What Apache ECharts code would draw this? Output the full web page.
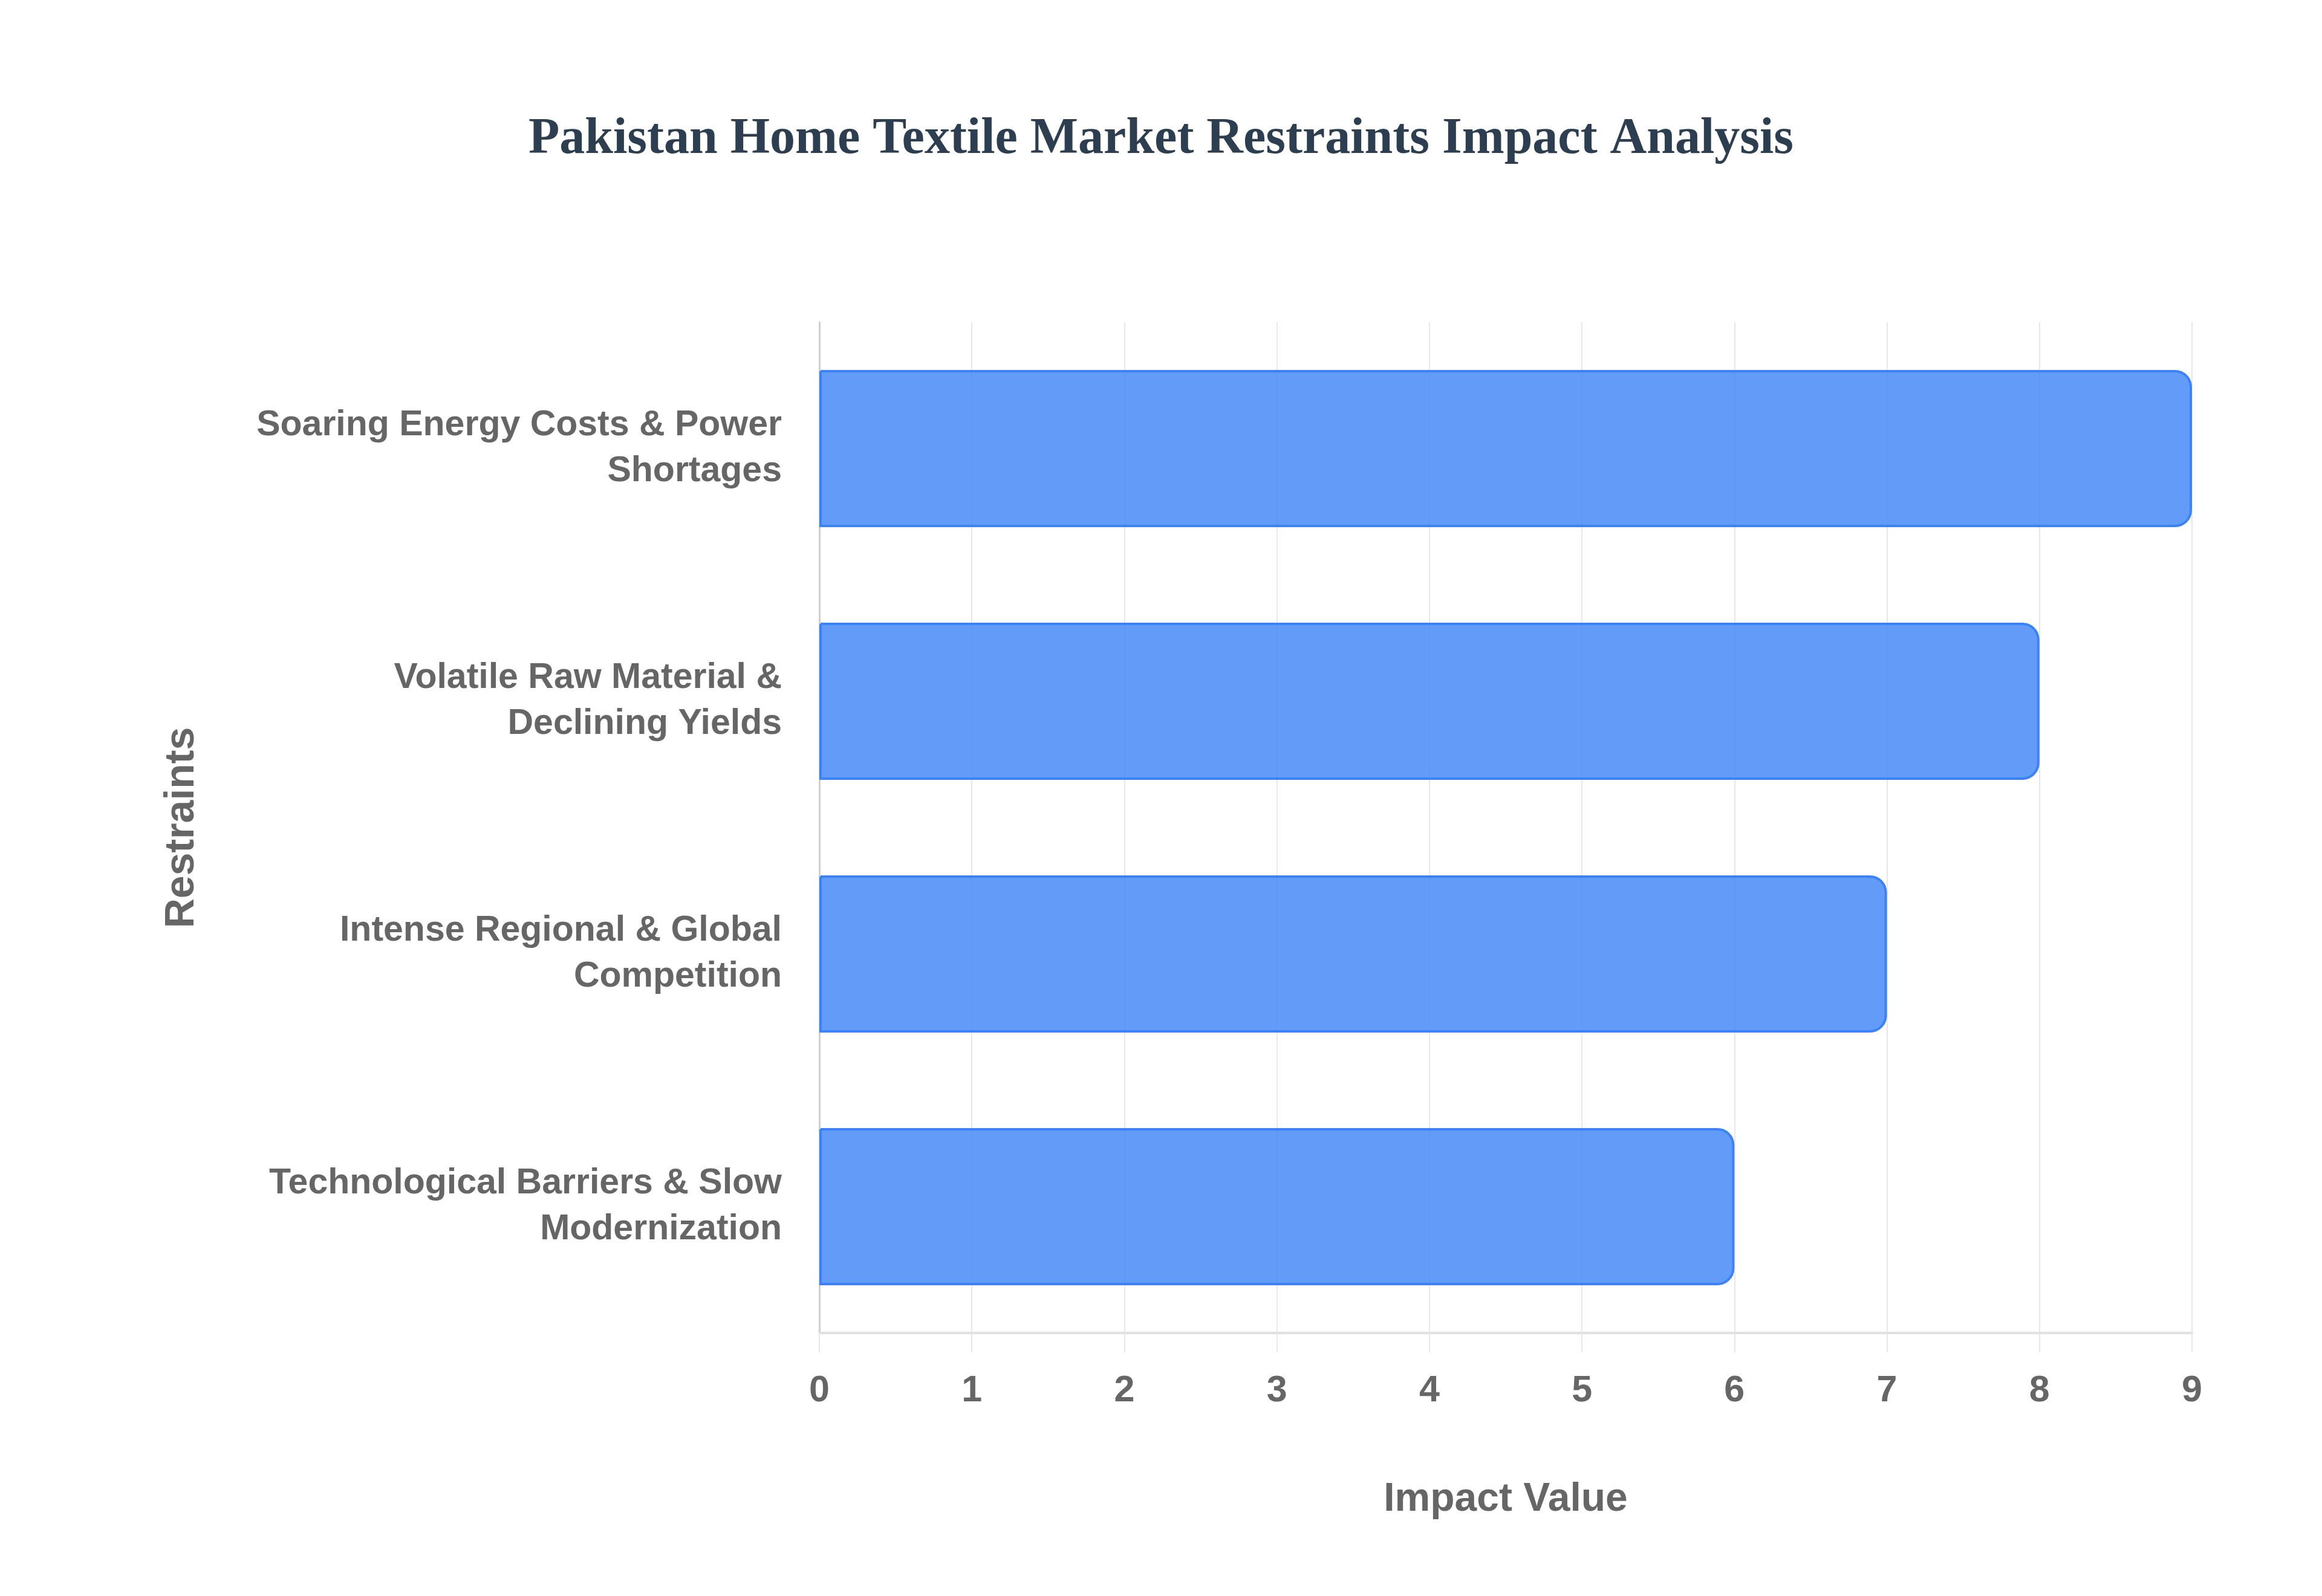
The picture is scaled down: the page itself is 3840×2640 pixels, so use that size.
<!DOCTYPE html>
<html>
<head>
<meta charset="utf-8">
<script src="https://cdn.jsdelivr.net/npm/echarts@6/dist/echarts.min.js"></script>
<style>
html,body{margin:0;padding:0;background:#fff;}
#chart{width:3840px;height:2640px;}
</style>
</head>
<body>
<div id="chart"></div>
<script>
const titleText = 'Pakistan Home Textile Market Restraints Impact Analysis';
const categories = [
  'Soaring Energy Costs & Power Shortages',
  'Volatile Raw Material & Declining Yields',
  'Intense Regional & Global Competition',
  'Technological Barriers & Slow Modernization'
];
const impactValues = [9, 8, 7, 6];
const xTicks = [0, 1, 2, 3, 4, 5, 6, 7, 8, 9];
const xAxisName = 'Impact Value';
const yAxisName = 'Restraints';

const sans = '"Liberation Sans", Arial, Helvetica, sans-serif';
const labelFontSize = 59;
const measureCtx = document.createElement('canvas').getContext('2d');
measureCtx.font = 'bold ' + labelFontSize + 'px ' + sans;
function wrapLabel(text, maxWidth) {
  const words = text.split(' ');
  const lines = [];
  let cur = '';
  words.forEach(function (w) {
    const test = cur ? cur + ' ' + w : w;
    if (cur && measureCtx.measureText(test).width > maxWidth) {
      lines.push(cur);
      cur = w;
    } else {
      cur = test;
    }
  });
  if (cur) lines.push(cur);
  return lines.join('\n');
}

const chart = echarts.init(document.getElementById('chart'), null, {renderer: 'canvas'});
chart.setOption({
  backgroundColor: '#ffffff',
  animation: false,
  title: {
    text: titleText,
    left: 'center',
    top: 184,
    textStyle: {
      fontFamily: '"Liberation Serif", "Times New Roman", serif',
      fontWeight: 'bold',
      fontSize: 84,
      color: '#2c3e50'
    }
  },
  grid: {left: 1355, right: 215, top: 533, bottom: 435, containLabel: false},
  xAxis: {
    type: 'value',
    min: xTicks[0],
    max: xTicks[xTicks.length - 1],
    interval: 1,
    name: xAxisName,
    nameLocation: 'middle',
    nameGap: 243,
    nameTextStyle: {fontFamily: sans, fontWeight: 'bold', fontSize: 66, color: '#666666'},
    axisLine: {show: true, lineStyle: {color: '#e0e0e0', width: 4}},
    axisTick: {show: true, length: 32, lineStyle: {color: '#e8e8e8', width: 2}},
    axisLabel: {margin: 66, fontFamily: sans, fontWeight: 'bold', fontSize: 61, color: '#666666'},
    splitLine: {show: true, lineStyle: {color: '#e8e8e8', width: 2}}
  },
  yAxis: {
    type: 'category',
    inverse: true,
    data: categories,
    name: yAxisName,
    nameLocation: 'middle',
    nameGap: 1020,
    nameRotate: 90,
    nameTextStyle: {fontFamily: sans, fontWeight: 'bold', fontSize: 68, color: '#666666'},
    axisLine: {show: true, lineStyle: {color: '#d0d0d0', width: 3}},
    axisTick: {show: false},
    splitLine: {show: false},
    axisLabel: {
      margin: 62,
      fontFamily: sans,
      fontWeight: 'bold',
      fontSize: labelFontSize,
      lineHeight: 76,
      color: '#666666',
      align: 'right',
      formatter: function (v) { return wrapLabel(v, 900); }
    }
  },
  series: [{
    type: 'bar',
    data: impactValues,
    barWidth: 260,
    itemStyle: {
      color: 'rgba(59,130,246,0.8)',
      borderColor: '#3b82f6',
      borderWidth: 4,
      borderRadius: [0, 26, 26, 0]
    }
  }]
});
</script>
</body>
</html>
